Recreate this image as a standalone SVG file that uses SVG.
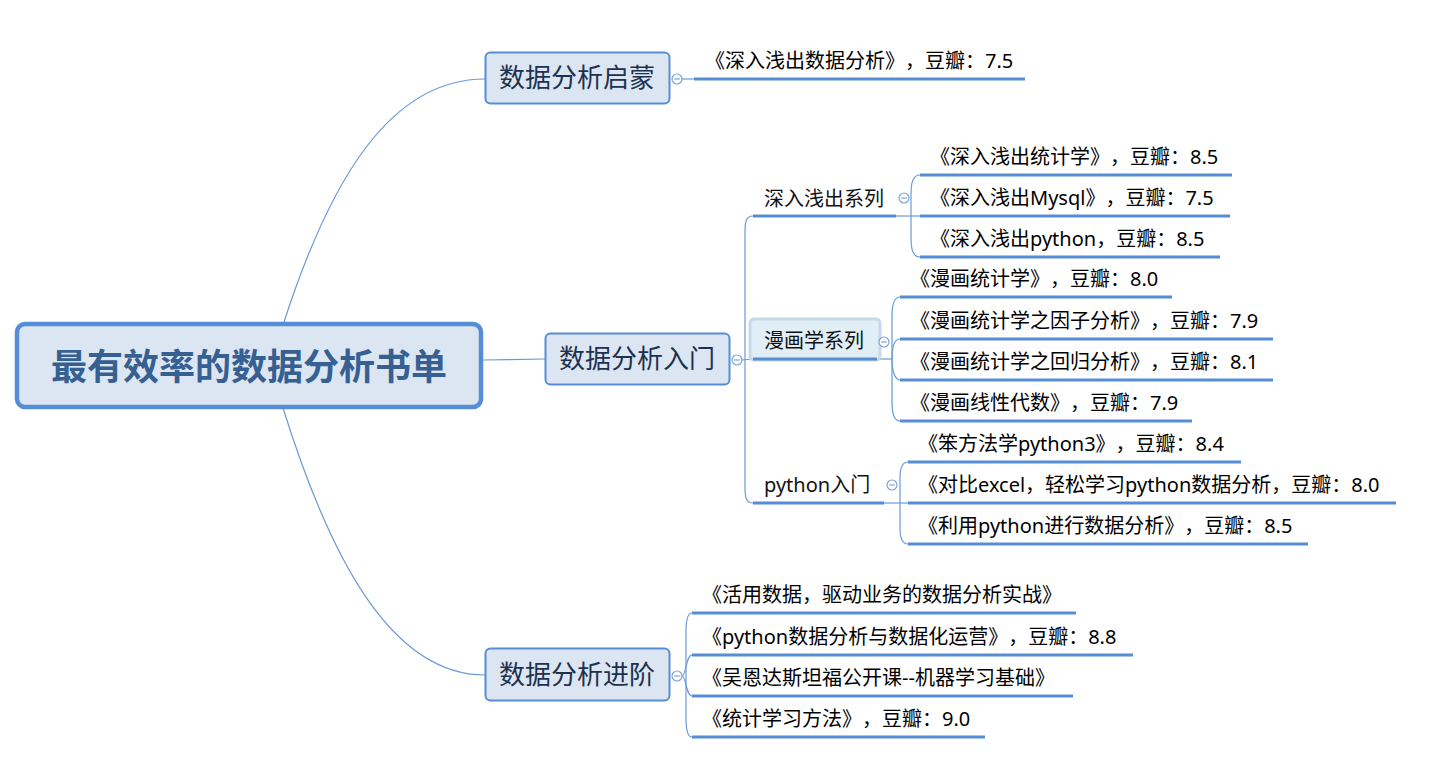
<svg xmlns="http://www.w3.org/2000/svg" width="1440" height="782" viewBox="0 0 1440 782">
<style>
  .thin{fill:none;stroke:#6a99d8;stroke-width:1.2}
  .leaf{fill:none;stroke:#558ed5;stroke-width:3}
  .lt{font-family:"Noto Sans","Noto Sans CJK SC",sans-serif;font-size:20px;fill:#000;text-spacing-trim:space-all}
  .l2{font-family:"Noto Sans","Noto Sans CJK SC",sans-serif;font-size:20px;fill:#111}
  .l1box{fill:#dce6f2;stroke:#558ed5;stroke-width:2}
  .l1t{font-family:"Noto Sans CJK SC",sans-serif;font-size:26px;fill:#1c3250;text-anchor:middle}
</style>
<defs>
  <g id="minus"><circle cx="0" cy="0" r="5" fill="#fff" stroke="#7ea3d8" stroke-width="1.2"/><line x1="-2.8" y1="0" x2="2.8" y2="0" stroke="#7ea3d8" stroke-width="1.2"/></g>
</defs>
<rect width="1440" height="782" fill="#fff"/>

<g id="connectors">
  <path class="thin" d="M284,322 C330,180 390,79 485,79"/>
  <path class="thin" d="M283,408 C329,555 390,675 485,675"/>
  <path class="thin" d="M483,360 L545,359"/>
  <path class="thin" d="M682,79 L694,79"/>
  <path class="thin" d="M753,216 C746,216 745,222 745,232 L745,487 C745,497 746,503 753,503"/>
  <path class="thin" d="M742,360 L753,359"/>
  <path class="thin" d="M896,216 L920,216"/>
  <path class="thin" d="M920,175 C913,175 911,182 911,195 L911,237 C911,250 913,257 920,257"/>
  <path class="thin" d="M877,359 L892,359"/>
  <path class="thin" d="M900,297 C894,297 892,305 892,316 L892,402 C892,413 894,421 900,421"/>
  <path class="thin" d="M892,359 C892,346 895,339 900,339"/>
  <path class="thin" d="M892,359 C892,371 895,380 900,380"/>
  <path class="thin" d="M884,503 L908,503"/>
  <path class="thin" d="M908,462 C902,462 900,468 900,478 L900,528 C900,538 902,544 908,544"/>
  <path class="thin" d="M692,613 C688,613 686,620 686,632 L686,718 C686,730 688,737 692,737"/>
  <path class="thin" d="M682,676 C686,676 686,655 692,655"/>
  <path class="thin" d="M682,676 C686,676 686,696 692,696"/>
</g>

<g id="root">
  <rect x="17" y="324" width="464" height="83" rx="8" fill="#dce6f2" stroke="#558ed5" stroke-width="4.5"/>
  <text x="249" y="380" text-anchor="middle" font-family="Noto Sans CJK SC,sans-serif" font-size="36" font-weight="bold" fill="#376092">最有效率的数据分析书单</text>
</g>

<g id="n-qimeng">
  <rect class="l1box" x="485.5" y="52.5" width="184" height="51" rx="5"/>
  <text class="l1t" x="577" y="87">数据分析启蒙</text>
  <use href="#minus" x="677" y="79"/>
</g>
<g id="n-rumen">
  <rect class="l1box" x="545.5" y="333.5" width="184" height="51" rx="5"/>
  <text class="l1t" x="637" y="368">数据分析入门</text>
  <use href="#minus" x="737" y="360"/>
</g>
<g id="n-jinjie">
  <rect class="l1box" x="485.5" y="648.5" width="184" height="52" rx="5"/>
  <text class="l1t" x="577" y="684">数据分析进阶</text>
  <use href="#minus" x="677" y="676"/>
</g>

<g id="n-shenru">
  <text class="l2" x="764" y="206">深入浅出系列</text>
  <line class="leaf" x1="753" y1="216" x2="896" y2="216"/>
  <use href="#minus" x="904" y="198"/>
</g>
<g id="n-manhua">
  <rect x="750" y="319" width="130" height="41" rx="4" fill="#e2eef5" stroke="#c5d9ea" stroke-width="3"/>
  <text class="l2" x="764" y="348">漫画学系列</text>
  <line class="leaf" x1="753" y1="359" x2="877" y2="359"/>
  <use href="#minus" x="884" y="342"/>
</g>
<g id="n-python">
  <text class="l2" x="764" y="492">python入门</text>
  <line class="leaf" x1="753" y1="503" x2="884" y2="503"/>
  <use href="#minus" x="892" y="485"/>
</g>

<g id="leaves">
  <g id="b1"><line class="leaf" x1="694" y1="79" x2="1025" y2="79"/><text class="lt" x="705" y="68">《深入浅出数据分析》，豆瓣：7.5</text></g>

  <g id="b2"><line class="leaf" x1="920" y1="175" x2="1232" y2="175"/><text class="lt" x="930" y="164">《深入浅出统计学》，豆瓣：8.5</text></g>
  <g id="b3"><line class="leaf" x1="920" y1="216" x2="1230" y2="216"/><text class="lt" x="930" y="205">《深入浅出Mysql》，豆瓣：7.5</text></g>
  <g id="b4"><line class="leaf" x1="920" y1="257" x2="1220" y2="257"/><text class="lt" x="930" y="246">《深入浅出python，豆瓣：8.5</text></g>

  <g id="b5"><line class="leaf" x1="900" y1="297" x2="1172" y2="297"/><text class="lt" x="910" y="286">《漫画统计学》，豆瓣：8.0</text></g>
  <g id="b6"><line class="leaf" x1="900" y1="339" x2="1273" y2="339"/><text class="lt" x="910" y="328">《漫画统计学之因子分析》，豆瓣：7.9</text></g>
  <g id="b7"><line class="leaf" x1="900" y1="380" x2="1273" y2="380"/><text class="lt" x="910" y="369">《漫画统计学之回归分析》，豆瓣：8.1</text></g>
  <g id="b8"><line class="leaf" x1="900" y1="421" x2="1192" y2="421"/><text class="lt" x="910" y="410">《漫画线性代数》，豆瓣：7.9</text></g>

  <g id="b9"><line class="leaf" x1="908" y1="462" x2="1241" y2="462"/><text class="lt" x="918" y="451">《笨方法学python3》，豆瓣：8.4</text></g>
  <g id="b10"><line class="leaf" x1="908" y1="503" x2="1396" y2="503"/><text class="lt" x="918" y="492">《对比excel，轻松学习python数据分析，豆瓣：8.0</text></g>
  <g id="b11"><line class="leaf" x1="908" y1="544" x2="1308" y2="544"/><text class="lt" x="918" y="533">《利用python进行数据分析》，豆瓣：8.5</text></g>

  <g id="b12"><line class="leaf" x1="692" y1="613" x2="1076" y2="613"/><text class="lt" x="702" y="602">《活用数据，驱动业务的数据分析实战》</text></g>
  <g id="b13"><line class="leaf" x1="692" y1="655" x2="1133" y2="655"/><text class="lt" x="702" y="644">《python数据分析与数据化运营》，豆瓣：8.8</text></g>
  <g id="b14"><line class="leaf" x1="692" y1="696" x2="1073" y2="696"/><text class="lt" x="702" y="685">《吴恩达斯坦福公开课--机器学习基础》</text></g>
  <g id="b15"><line class="leaf" x1="692" y1="737" x2="985" y2="737"/><text class="lt" x="702" y="726">《统计学习方法》，豆瓣：9.0</text></g>
</g>
</svg>
